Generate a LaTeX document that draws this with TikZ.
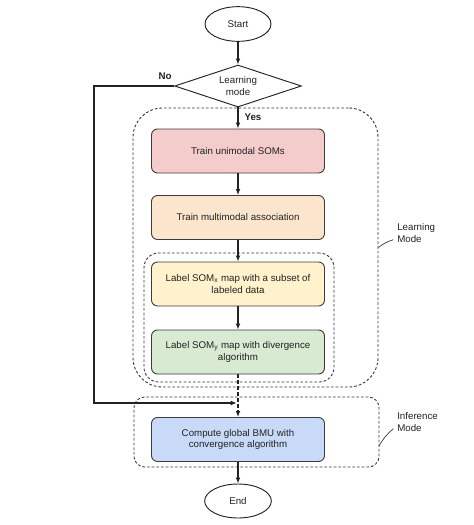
\documentclass[tikz,border=0pt]{standalone}
\usepackage{fontspec}
\setmainfont{Liberation Sans}
\usetikzlibrary{shapes.geometric,arrows.meta}

\begin{document}
\begin{tikzpicture}[x=0.75pt,y=0.75pt,yscale=-1,xscale=1,
  font=\fontsize{7.3}{8.8}\selectfont,
  every node/.style={text={rgb, 255:red, 34; green, 34; blue, 34 }},
  flow/.style={draw={rgb, 255:red, 34; green, 34; blue, 34 },line width=0.8pt,-{Latex[length=4.5pt,width=3.6pt]}},
  stepbox/.style={draw={rgb, 255:red, 60; green, 60; blue, 60 },line width=0.7pt,rounded corners=4.5pt,minimum width=129.75pt,minimum height=33pt,align=center,inner sep=1pt},
  groupbox/.style={draw={rgb, 255:red, 50; green, 50; blue, 50 },line width=0.65pt,dash pattern=on 2pt off 1.5pt,inner sep=0pt},
  terminal/.style={draw={rgb, 255:red, 34; green, 34; blue, 34 },line width=0.7pt,ellipse,inner sep=0pt}]
\useasboundingbox (0,0) rectangle (474,525);

%Shape: Rectangle [id:learning group] 
\node [groupbox,rounded corners=22pt,minimum width=183.75pt,minimum height=209.25pt] (learnbox) at (255.5,247.5) {};
%Shape: Rectangle [id:labeling group] 
\node [groupbox,rounded corners=11pt,minimum width=142.5pt,minimum height=96.75pt] (labelbox) at (239,317.5) {};
%Shape: Rectangle [id:inference group] 
\node [groupbox,rounded corners=8pt,minimum width=183.75pt,minimum height=52.5pt] (inferbox) at (256.5,432) {};

%Shape: Ellipse [id:start] 
\node [terminal,minimum width=49.5pt,minimum height=26pt] (start) at (238,24) {Start};
%Shape: Diamond [id:mode] 
\node [draw={rgb, 255:red, 34; green, 34; blue, 34 },line width=0.7pt,diamond,shape aspect=3,inner sep=1pt,minimum width=95pt,minimum height=31.5pt,align=center] (mode) at (238,86) {Learning\\mode};

%Shape: Rectangle [id:unimodal] 
\node [stepbox,fill={rgb, 255:red, 244; green, 204; blue, 204 }] (unimodal) at (238,151) {Train unimodal SOMs};
%Shape: Rectangle [id:multimodal] 
\node [stepbox,fill={rgb, 255:red, 252; green, 229; blue, 205 }] (multimodal) at (238,217.5) {Train multimodal association};
%Shape: Rectangle [id:somx] 
\node [stepbox,fill={rgb, 255:red, 255; green, 242; blue, 204 }] (somx) at (238,284) {Label SOM\textsubscript{x} map with a subset of\\labeled data};
%Shape: Rectangle [id:somy] 
\node [stepbox,fill={rgb, 255:red, 217; green, 234; blue, 211 }] (somy) at (238,352) {Label SOM\textsubscript{y} map with divergence\\algorithm};
%Shape: Rectangle [id:compute] 
\node [stepbox,fill={rgb, 255:red, 201; green, 218; blue, 248 }] (compute) at (238,439.5) {Compute global BMU with\\convergence algorithm};
%Shape: Ellipse [id:end] 
\node [terminal,minimum width=50pt,minimum height=25.5pt] (end) at (238,501) {End};

% Text Node
\node [anchor=center,font=\fontsize{7.3}{8.8}\selectfont\bfseries] (nolabel) at (165,76) {No};
% Text Node
\node [anchor=center,font=\fontsize{7.3}{8.8}\selectfont\bfseries] (yeslabel) at (253,117) {Yes};
% Text Node
\node [anchor=west,align=left,inner sep=0.75pt] (learnlabel) at (396,233) {Learning\\Mode};
% Text Node
\node [anchor=west,align=left,inner sep=0.75pt] (inferlabel) at (396,422) {Inference\\Mode};

\coordinate (nocorner) at (94,403);
\coordinate (join) at (238,403);
\coordinate (inferpt) at (379,446);

%Straight Lines [id:flow] 
\draw [flow] (start) -- (mode);
\draw [flow] (mode) -- (unimodal);
\draw [flow] (unimodal) -- (multimodal);
\draw [flow] (multimodal) -- (somx);
\draw [flow] (somx) -- (somy);
\draw [flow,dash pattern=on 3pt off 1.5pt] (somy) -- (compute);
\draw [flow] (compute) -- (end);
\draw [flow] (mode.west) -| (nocorner) -- ([xshift=-1pt]join);

%Curve Lines [id:leaders] 
\draw [line width=0.5pt,draw={rgb, 255:red, 50; green, 50; blue, 50 }] (learnbox.east) to[bend right=10] ([xshift=-2pt,yshift=-3pt]learnlabel.south west);
\draw [line width=0.5pt,draw={rgb, 255:red, 50; green, 50; blue, 50 }] (inferpt) to[bend right=10] ([xshift=-2pt,yshift=-3pt]inferlabel.south west);

\end{tikzpicture}
\end{document}
